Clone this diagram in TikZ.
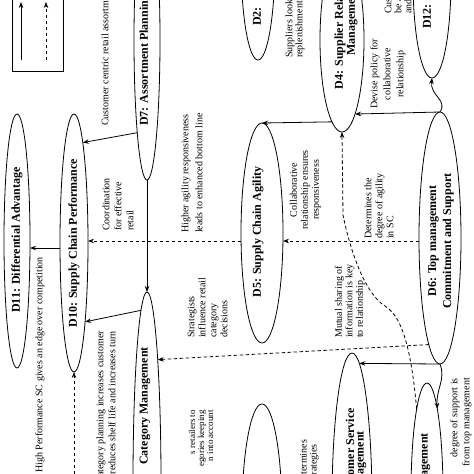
\documentclass[tikz,border=0pt]{standalone}
\usepackage{fontspec}
\setmainfont{Liberation Serif}
\usetikzlibrary{arrows.meta,shapes.geometric}
\begin{document}
\begin{tikzpicture}[x=1pt,y=-1pt,
  ell/.style={draw, ellipse, inner sep=0pt, outer sep=0pt, line width=0.8pt},
  ttl/.style={rotate=90, font=\bfseries\fontsize{12}{13}\selectfont, inner sep=0pt, align=center},
  lbl/.style={rotate=90, font=\fontsize{10}{12}\selectfont, inner sep=0pt},
  arr/.style={line width=0.8pt, -{Stealth[length=6pt,width=4.5pt]}},
  darr/.style={arr, dash pattern=on 3.5pt off 2.5pt},
]
\useasboundingbox (0,0) rectangle (474,474);
\clip (0,0) rectangle (474,474);

% ellipses
\node[ell, minimum width=26, minimum height=254] (d11) at (17,241) {};
\node[ell, minimum width=28, minimum height=258] (d10) at (74,243) {};
\node[ell, minimum width=26, minimum height=280] (d7) at (147,40) {};
\node[ell, minimum width=28, minimum height=380] (d9) at (147,482) {};
\node[ell, minimum width=34, minimum height=200] (d2) at (258,-40) {};
\node[ell, minimum width=44, minimum height=184] (d4) at (342,40) {};
\node[ell, minimum width=38, minimum height=196] (d12) at (432,-20) {};
\node[ell, minimum width=42, minimum height=220] (d5) at (262,233) {};
\node[ell, minimum width=42, minimum height=252] (d6) at (440,238) {};
\node[ell, minimum width=40, minimum height=300] (d8) at (352,503) {};
\node[ell, minimum width=32, minimum height=220] (d3) at (427,493) {};
\node[ell, minimum width=40, minimum height=220] (d1) at (262,514) {};

% legend
\node[draw, line width=0.8pt, minimum width=51, minimum height=91, inner sep=0pt] (legend) at (37.5,25.5) {};
\coordinate (la1) at (21,60); \coordinate (lb1) at (21,2);
\coordinate (la2) at (46,60); \coordinate (lb2) at (46,2);
\draw[arr] (la1) -- (lb1);
\draw[darr] (la2) -- (lb2);

% titles
\node[ttl] (t11) at (17,240) {D11: Differential Advantage};
\node[ttl] (t10) at (74,243) {D10: Supply Chain Performance};
\node[ttl, anchor=west] (t7) at (145,126) {D7: Assortment Planning};
\node[ttl, anchor=east] (t9) at (145,347) {Category Management};
\node[ttl, anchor=west] (t2) at (257,26) {D2:};
\node[ttl, font=\bfseries\fontsize{12}{12}\selectfont] (t4) at (346,22) {D4: Supplier Relationship\\Management};
\node[ttl, anchor=west] (t12) at (427,29) {D12:};
\node[ttl] (t5) at (258,232) {D5: Supply Chain Agility};
\node[ttl, font=\bfseries\fontsize{12}{15}\selectfont] (t6) at (441,241) {D6: Top management\\Commitment and Support};
\node[ttl, anchor=east] (t8a) at (350,408) {Customer Service};
\node[ttl, anchor=east] (t8b) at (361,431) {Management};
\node[ttl, anchor=east] (t3) at (425,433) {Management};

% connectors
\draw[arr] (d10.west |- 0,248) -- (d11.east |- 0,248);
\draw[arr] (d7.264.6) -- (d10.85.6);
\draw[arr] (d7.south) -- (d9.north);
\draw[arr] (d9.92.7) -- (d10.278);
\draw[darr] (d5.west |- 0,241) -- (d10.east |- 0,241);
\draw[arr] (d6.north) -- (d4.280.8);
\draw[arr] (d4.263) -- (d5.north);
\draw[arr] (d6.north) .. controls (448,100) and (430,96) .. (d12.south);
\draw[darr] (d6.west |- 0,241) -- (d5.east |- 0,241);
\draw[darr] (d6.264.7) -- (d9.85.8);
\draw[arr] (d6.south) -- (d8.87.1);
\draw[arr] (d6.south) .. controls (446,380) and (436,388) .. (d3.83.4);
\draw[darr] (d3.97.2) .. controls (412,360) and (405,318) .. (385,306) .. controls (365,294) and (350,250) .. (343,215) -- (d4.south);
\coordinate (src10) at (74,480);
\draw[darr] (src10) -- (d10.south);

% labels
\node[lbl, anchor=west] (l1) at (105,126) {Customer centric retail assortment};
\node[lbl, anchor=west, align=left] (l2) at (118,231) {Coordination\\for effective\\retail};
\node[lbl, anchor=west, align=left, font=\fontsize{10}{14}\selectfont] (l3) at (192,233) {Higher agility responsiveness\\leads to enhanced bottom line};
\node[lbl, anchor=east, align=right] (l4) at (106,331) {Category planning increases customer\\reduces shelf life and increases turn};
\node[lbl, anchor=west] (l5) at (40,473) {High Performance SC gives an edge over competition};
\node[lbl, anchor=west, align=left, font=\fontsize{10}{11}\selectfont] (l6) at (207.5,338) {Strategists\\influence retail\\category\\decisions};
\node[lbl, align=center, font=\fontsize{10}{11}\selectfont] (l7) at (305.5,190) {Collaborative\\relationship ensures\\responsiveness};
\node[lbl, anchor=west, align=left, font=\fontsize{10}{10}\selectfont] (l8) at (295,58) {Suppliers look\\replenishment};
\node[lbl, align=center, font=\fontsize{10}{13}\selectfont] (l9) at (388,74) {Devise policy for\\collaborative\\relationship};
\node[lbl, anchor=west, align=left, font=\fontsize{10}{10}\selectfont] (l10) at (398,14) {Cust\\be a\\and};
\node[lbl, anchor=west, align=left, font=\fontsize{10}{11}\selectfont] (l11) at (379,239) {Determines the\\degree of agility\\in SC};
\node[lbl, anchor=west, align=left, font=\fontsize{10}{10.5}\selectfont] (l12) at (350,338) {Mutual sharing of\\information is key\\to relationship};
\node[lbl, anchor=east, align=right] (l13) at (461,378) {degree of support is\\from top management};
\node[lbl, anchor=east, align=right, font=\fontsize{9}{9}\selectfont] (l14) at (201,410) {s retailers to\\egories keeping\\n into account};
\node[lbl, align=center, font=\fontsize{10}{10}\selectfont] (l15) at (309.5,463) {Determines\\strategies};
\end{tikzpicture}
\end{document}
